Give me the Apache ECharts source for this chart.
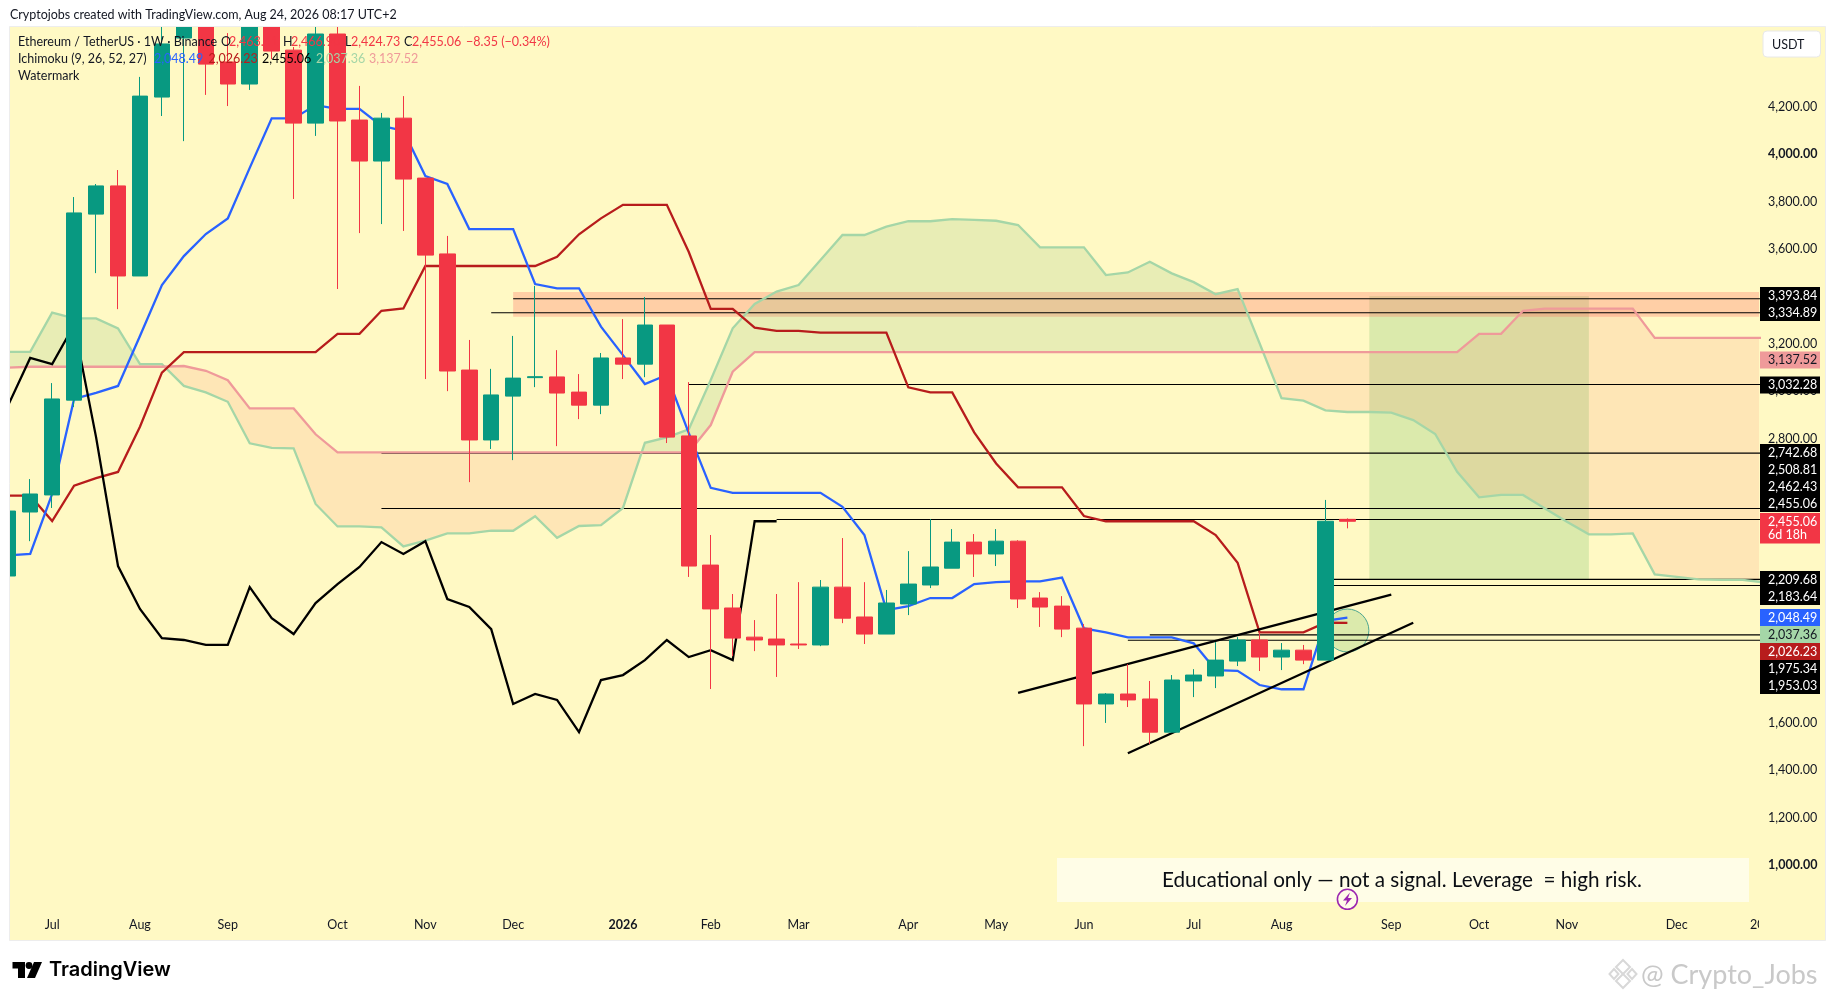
<!DOCTYPE html>
<html><head><meta charset="utf-8">
<style>html,body{margin:0;padding:0;background:#fff}#c{width:1835px;height:1000px}</style>
<script src="https://cdn.jsdelivr.net/npm/echarts@6/dist/echarts.min.js"></script>
</head><body><div id="c"></div>
<script>
// ---- data: week index -1 is the partly visible first candle, 60 is the running week
const firstWeek = -1;
const opens = [2224,2494,2566,2966,3751,3870,3490,4245,4494,4620,4393,4300,4600,4443,4135,4511,4148,3975,4156,3903,3583,3093,2798,2983,3061,3064,3000,2945,3144,3118,3283,2815,2270,2089,1966,1958,1937,1933,2177,2051,1979,2106,2186,2257,2367,2317,2371,2131,2097,2004,1684,1726,1705,1565,1781,1802,1865,1954,1882,1911,1869,2463];
const closes = [2498,2570,2971,3756,3870,3490,4249,4469,4620,4384,4300,4600,4439,4135,4511,4144,3975,4156,3899,3578,3089,2798,2988,3059,3065,2996,2945,3144,3118,3283,2810,2266,2085,1962,1954,1933,1933,2177,2046,1979,2110,2190,2262,2367,2317,2371,2127,2093,2000,1684,1726,1701,1565,1785,1806,1869,1954,1882,1911,1869,2455,2455];
const lows = [2215,2371,2511,2937,3502,3350,3490,4165,4059,4254,4207,4275,4405,3815,4081,3435,3671,3709,3680,3055,3004,2620,2760,2713,3021,2772,2886,2907,3055,3063,2785,2220,1747,1886,1907,1798,1916,1928,2025,1937,1979,2059,2173,2257,2220,2266,2089,2009,1966,1506,1604,1671,1515,1565,1713,1751,1844,1823,1827,1852,1869,2425];
const highs = [2523,2633,3038,3823,3878,3937,4330,4560,4700,4650,4515,4650,4620,4456,4600,4541,4292,4178,4249,3903,3659,3220,3098,3237,3448,3177,3076,3165,3308,3401,3283,3042,2397,2148,2038,2148,2198,2207,2384,2198,2165,2329,2464,2422,2401,2422,2375,2156,2139,2021,1730,1852,1781,1806,1831,1945,1966,1987,1941,1933,2545,2467];
const conversionLine = [2311,2317,2570,2971,2997,3026,3237,3452,3574,3667,3733,3946,4155,4155,4211,4195,4195,4123,4103,3912,3878,3688,3688,3688,3456,3438,3438,3276,3156,3034,3072,2827,2596,2575,2575,2575,2575,2575,2516,2397,2080,2097,2131,2131,2190,2198,2201,2201,2217,2003,1986,1965,1965,1965,1940,1827,1824,1764,1746,1746,2035,2048.49];
const baseLine = [2563,2563,2456,2605,2637,2663,2854,3082,3169,3169,3169,3169,3169,3169,3169,3246,3246,3343,3353,3532,3532,3532,3532,3532,3532,3571,3666,3733,3790,3790,3790,3591,3351,3351,3272,3258,3258,3251,3251,3251,3251,3020,2999,2999,2830,2699,2598,2598,2598,2477,2455,2455,2455,2455,2455,2397,2280,1986,1986,1986,2027,2026.23];
const laggingSpan = [2945,3144,3118,3283,2810,2266,2085,1962,1954,1933,1933,2177,2046,1979,2110,2190,2262,2367,2317,2371,2127,2093,2000,1684,1726,1701,1565,1785,1806,1869,1954,1882,1911,1869,2455,2455.06];
const leadingA = [3170,3170,3335,3311,3311,3269,3118,3118,3026,2999,2959,2784,2765,2763,2528,2433,2433,2429,2349,2373,2404,2404,2415,2415,2476,2385,2435,2439,2511,2786,2809,2843,3051,3269,3372,3424,3452,3557,3663,3663,3698,3721,3721,3730,3727,3723,3705,3611,3611,3611,3494,3505,3550,3501,3464,3413,3435,3206,2974,2964,2923,2916,2916,2913,2882,2823,2664,2556,2566,2566,2509,2453,2400,2400,2404,2231,2220,2210,2208,2208,2197];
const leadingB = [3103,3107,3107,3107,3107,3107,3107,3107,3110,3090,3050,2931,2931,2931,2822,2746,2746,2746,2746,2746,2746,2746,2746,2746,2746,2746,2746,2746,2746,2746,2746,2746,2861,3086,3169,3169,3169,3169,3169,3169,3169,3169,3169,3169,3169,3169,3169,3169,3169,3169,3169,3169,3169,3169,3169,3169,3169,3169,3169,3169,3169,3169,3169,3169,3169,3169,3169,3246,3246,3343,3352,3352,3352,3352,3352,3229,3229,3229,3229,3229,3229];
const levelValues = [3393.84,3334.89,3032.28,2742.68,2508.81,2462.43,2209.68,2183.64,1975.34,1953.03];
const levelStartWeeks = [22,21,30,16,16,34,59,59,51,50];
const levelEndWeek = 80;
const trendWeeksUpper = [45,62], trendValuesUpper = [1731,2145];
const trendWeeksLower = [50,63], trendValuesLower = [1476,2027];
const supplyZone = [22,80,3422,3318];
const targetZone = [61,71,3405,2211];
const circleMark = [60,1994];
const priceTicks = [1000,1200,1400,1600,1800,2000,2200,2400,2600,2800,3000,3200,3400,3600,3800,4000,4200];
const timeTickWeeks = [1,5,9,14,18,22,27,31,35,40,44,48,53,57,62,66,70,75];
const timeTickLabels = ['Jul','Aug','Sep','Oct','Nov','Dec','2026','Feb','Mar','Apr','May','Jun','Jul','Aug','Sep','Oct','Nov','Dec'];
const priceTags = ['3,393.84','3,334.89','3,137.52','3,032.28','2,742.68','2,508.81','2,462.43','2,455.06','2,455.06','2,209.68','2,183.64','2,048.49','2,037.36','2,026.23','1,975.34','1,953.03'];
const headerText = 'Cryptojobs created with TradingView.com, Aug 24, 2026 08:17 UTC+2';
const noticeText = 'Educational only \u2014 not a signal. Leverage  = high risk.';

// ---- layout & styles
const FONT = 'Lato';
const UI = 12.5, NUM = 12.5;
const RED='#F23645', GREEN='#089981', BLUE='#2962FF', DRED='#B71C1C', SPANA='#A5D6A7', SPANB='#EF9A9A', INK='#131722', BG='#FFF9C4';
const GRID = {left:9, right:1835-1759, top:27, bottom:1000-940};
const tagTop = [287,304,351.5,376.5,444,461,478,495,513,571,588,609,626,643,660,677];
const tagBg = ['#000','#000',SPANB,'#000','#000','#000','#000','#000',RED,'#000','#000',BLUE,SPANA,DRED,'#000','#000'];
const tagInk = ['#fff','#fff',INK,'#fff','#fff','#fff','#fff','#fff','#fff','#fff','#fff','#fff',INK,'#fff','#fff','#fff'];

const weeks = arr => arr.map((v,k)=>[k+firstWeek,v]);
const candles = opens.map((o,k)=>[k+firstWeek,o,closes[k],lows[k],highs[k]]);
const lineSeries = (data,color,width,z)=>({type:'line',data,showSymbol:false,symbol:'none',silent:true,animation:false,
  lineStyle:{color,width,cap:'butt',join:'miter'},z});

// cloud polygons between the two leading spans, one per run of equal sign
function cloudRuns(){
  const runs=[]; let cur=null;
  for(let k=0;k<leadingA.length;k++){
    const up=leadingA[k]>=leadingB[k], w=k+firstWeek;
    if(!cur||cur.up!==up){
      const pt=[];
      if(cur){
        const d0=leadingA[k-1]-leadingB[k-1], d1=leadingA[k]-leadingB[k], t=d0/(d0-d1);
        const cw=w-1+t, cv=leadingA[k-1]+(leadingA[k]-leadingA[k-1])*t;
        cur.top.push([cw,cv]); cur.bot.push([cw,cv]);
        pt.push([cw,cv]);
      }
      cur={up,top:pt.slice(),bot:pt.slice()}; runs.push(cur);
    }
    cur.top.push([w,leadingA[k]]); cur.bot.push([w,leadingB[k]]);
  }
  return runs;
}
const runs=cloudRuns();
function rectItem(z,color){
  return (params,api)=>{
    const cs=params.coordSys, a=api.coord([z[0],z[2]]), b=api.coord([z[1],z[3]]);
    const r=echarts.graphic.clipRectByRect({x:a[0],y:a[1],width:b[0]-a[0],height:b[1]-a[1]},{x:cs.x,y:cs.y,width:cs.width,height:cs.height});
    return {type:'rect',shape:r,style:{fill:color}};
  };
}
const chart=echarts.init(document.getElementById('c'),null,{renderer:'canvas',width:1835,height:1000});

const T=(text,x,y,fill,size,extra,z)=>({type:'text',z:z||20,silent:true,style:Object.assign({text,x,y,fill,font:`${size||UI}px ${FONT}`,verticalAlign:'middle',align:'left'},extra||{})});
const gfx=[
  {type:'rect',z:-5,silent:true,shape:{x:9.5,y:26.5,width:1816,height:914},style:{fill:BG}},
  // masks: everything beyond the panel is cut off, as on the original
  {type:'rect',z:6,silent:true,shape:{x:0,y:0,width:1835,height:26.5},style:{fill:'#fff'}},
  {type:'rect',z:6,silent:true,shape:{x:0,y:0,width:9.5,height:1000},style:{fill:'#fff'}},
  {type:'line',z:7,silent:true,shape:{x1:9.5,y1:26.5,x2:1825.5,y2:26.5},style:{stroke:'#EDEDED',lineWidth:1}},
  {type:'line',z:7,silent:true,shape:{x1:9.5,y1:940.5,x2:1825.5,y2:940.5},style:{stroke:'#EDEDED',lineWidth:1}},
  {type:'line',z:7,silent:true,shape:{x1:9.5,y1:26.5,x2:9.5,y2:940.5},style:{stroke:'#EDEDED',lineWidth:1}},
  {type:'line',z:7,silent:true,shape:{x1:1825.5,y1:26.5,x2:1825.5,y2:940.5},style:{stroke:'#EDEDED',lineWidth:1}},
  T('2027',1750,925,INK,NUM,null,1),
  {type:'rect',z:2,silent:true,shape:{x:1759,y:27,width:66,height:913},style:{fill:BG}},
  T(headerText,10,15,INK,UI),
  T('Ethereum / TetherUS \u00B7 1W \u00B7 Binance',18,42,INK),
  T('O',221,42,INK),T('2,463.41',229,42,RED,NUM),
  T('H',283,42,INK),T('2,466.90',291,42,RED,NUM),
  T('L',345,42,INK),T('2,424.73',351,42,RED,NUM),
  T('C',404,42,INK),T('2,455.06',412,42,RED,NUM),
  T('\u22128.35 (\u22120.34%)',466,42,RED,NUM),
  T('Ichimoku (9, 26, 52, 27)',18,59,INK),
  T('2,048.49',154,59,BLUE,NUM),T('2,026.23',208.5,59,DRED,NUM),T('2,455.06',262,59,'#000',NUM),T('2,037.36',316,59,SPANA,NUM),T('3,137.52',369,59,SPANB,NUM),
  T('Watermark',18,76,INK),
  {type:'rect',z:20,silent:true,shape:{x:1763,y:31,width:57.5,height:26,r:4},style:{fill:'#fff',stroke:'#E8E8E8',lineWidth:1}},
  T('USDT',1772,44.5,INK,UI,{},21),
  // notice
  {type:'rect',z:6,silent:true,shape:{x:1057,y:858,width:692,height:44},style:{fill:'#FFFDE7'}},
  T(noticeText,1162,880,'#0B0E14',20.7),
  // lightning
  {type:'circle',z:21,silent:true,shape:{cx:1347.4,cy:899.3,r:10},style:{fill:'#FFFDE7',stroke:'#9C27B0',lineWidth:1.6}},
  {type:'polygon',z:22,silent:true,shape:{points:[[1350,892.5],[1343,900.5],[1347,900.5],[1345,906],[1352,898],[1348,898]]},style:{fill:'#9C27B0'}},
  // TradingView logo
  {type:'polygon',z:22,silent:true,shape:{points:[[12.5,962],[25,962],[25,978],[18,978],[18,968.5],[12.5,968.5]]},style:{fill:'#000'}},
  {type:'circle',z:22,silent:true,shape:{cx:29,cy:965.5,r:3.4},style:{fill:'#000'}},
  {type:'polygon',z:22,silent:true,shape:{points:[[34,962],[42,962],[35,978],[27,978]]},style:{fill:'#000'}},
  T('TradingView',49,969.5,'#000',20,{font:'600 20px Inter'}),
  // watermark
  {type:'polygon',z:22,silent:true,shape:{points:[[1623,960],[1630,967],[1623,974],[1616,967]]},style:{fill:'none',stroke:'#D8D8D8',lineWidth:2}},
  {type:'polygon',z:22,silent:true,shape:{points:[[1623,974],[1630,981],[1623,988],[1616,981]]},style:{fill:'none',stroke:'#D8D8D8',lineWidth:2}},
  {type:'polygon',z:22,silent:true,shape:{points:[[1614,969],[1618.5,974],[1614,979],[1609.5,974]]},style:{fill:'none',stroke:'#D8D8D8',lineWidth:2}},
  {type:'polygon',z:22,silent:true,shape:{points:[[1632,969],[1636.5,974],[1632,979],[1627.5,974]]},style:{fill:'none',stroke:'#D8D8D8',lineWidth:2}},
  T('@ Crypto_Jobs',1641,975,'#C9C9C9',27)
];
priceTags.forEach((t,k)=>{
  const red=k===8, h=red?30.5:17;
  gfx.push({type:'rect',z:10,silent:true,shape:{x:1760,y:tagTop[k],width:60,height:h},style:{fill:tagBg[k]}});
  gfx.push(T(t,1768,tagTop[k]+8.5,tagInk[k],NUM));
  if(red) gfx.push(T('6d 18h',1768,tagTop[k]+21.5,'#fff',NUM));
});

const series=[
  {type:'custom',z:0,silent:true,animation:false,data:[[0,3300]],renderItem:rectItem(targetZone,'rgba(76,175,80,0.2)')},
  {type:'custom',z:0,silent:true,animation:false,data:[[0,3300]],renderItem:rectItem(supplyZone,'rgba(255,109,96,0.3)')},
  {type:'custom',z:1,silent:true,animation:false,data:runs.map((r,k)=>[k,3000]),renderItem:(params,api)=>{
    const r=runs[params.dataIndex], cs=params.coordSys;
    const pts=r.top.concat(r.bot.slice().reverse()).map(p=>api.coord(p));
    return {type:'polygon',shape:{points:echarts.graphic.clipPointsByRect(pts,{x:cs.x,y:cs.y,width:cs.width,height:cs.height})},
      style:{fill:r.up?'rgba(67,160,71,0.12)':'rgba(244,67,54,0.1)'}};
  }},
  {type:'scatter',z:2,silent:true,animation:false,symbol:'circle',symbolSize:43,data:[circleMark],
    itemStyle:{color:'rgba(76,175,80,0.2)',borderColor:'#4BA58F',borderWidth:1,opacity:1}},
];
levelValues.forEach((v,k)=>series.push(lineSeries([[levelStartWeeks[k],v],[levelEndWeek,v]],'#000',1.1,3)));
series.push(lineSeries(weeks(leadingA),SPANA,2.3,3));
series.push(lineSeries(weeks(leadingB),SPANB,2.3,3));
series.push(lineSeries(weeks(baseLine),DRED,2.3,3));
series.push(lineSeries(weeks(conversionLine),BLUE,2.3,3));
series.push(lineSeries(weeks(laggingSpan),'#000',2.3,3));
series.push(lineSeries(trendWeeksUpper.map((w,k)=>[w,trendValuesUpper[k]]),'#000',2.3,3));
series.push(lineSeries(trendWeeksLower.map((w,k)=>[w,trendValuesLower[k]]),'#000',2.3,3));
series.push({type:'candlestick',z:5,silent:true,animation:false,barWidth:16,data:candles,
  itemStyle:{color:GREEN,color0:RED,borderColor:GREEN,borderColor0:RED,borderWidth:1}});

chart.setOption({
  animation:false,backgroundColor:'#fff',
  grid:{left:GRID.left,right:GRID.right,top:GRID.top,bottom:GRID.bottom,containLabel:false},
  xAxis:{type:'value',min:-0.9657,max:78.75,z:0,splitLine:{show:false},axisLine:{show:false},axisTick:{show:false},
    axisLabel:{inside:true,margin:9,color:INK,fontFamily:FONT,fontSize:NUM,customValues:timeTickWeeks,hideOverlap:false,showMinLabel:true,showMaxLabel:true,
      formatter:v=>{const t=timeTickLabels[timeTickWeeks.indexOf(v)];return t==='2026'?'{b|2026}':t;},
      rich:{b:{fontWeight:'bold',fontFamily:FONT,fontSize:NUM,color:INK}}}},
  yAxis:{type:'value',position:'right',min:688,max:4540.6,z:3,splitLine:{show:false},axisLine:{show:false},axisTick:{show:false},
    axisLabel:{margin:9,padding:[0,0,2,0],color:INK,fontFamily:FONT,fontSize:NUM,customValues:priceTicks,
      formatter:v=>{const s=v.toLocaleString('en-US',{minimumFractionDigits:2});return (v===4000||v===1000)?`{b|${s}}`:s;},
      rich:{b:{fontWeight:'bold',fontFamily:FONT,fontSize:NUM,color:INK}}}},
  graphic:{elements:gfx},
  series
});
</script></body></html>
